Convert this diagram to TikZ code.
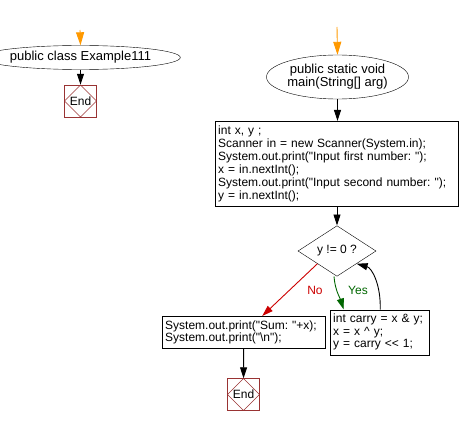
\documentclass[tikz,border=0pt]{standalone}
\usepackage{fontspec}
\setmainfont{Liberation Sans}
\usetikzlibrary{shapes.geometric,arrows.meta,calc}
\definecolor{endred}{HTML}{993333}
\definecolor{startor}{HTML}{FF9900}
\definecolor{nored}{HTML}{CC0000}
\definecolor{yesgreen}{HTML}{006600}
\begin{document}
\frenchspacing
\begin{tikzpicture}[x=1pt,y=-1pt,
  every node/.style={font=\fontsize{12}{12.6}\selectfont},
  bigtext/.style={font=\fontsize{13}{13}\selectfont},
  arr/.style={-{Triangle[length=11pt,width=7pt]}, line width=0.9pt},
  startarr/.style={-{Triangle[length=13pt,width=8pt]}, line width=0.9pt, startor},
  oval/.style={ellipse,draw,inner sep=0pt,bigtext},
  codebox/.style={draw,align=left,inner xsep=3pt,inner ysep=2pt,anchor=north west},
  endbox/.style={draw=endred,minimum size=32pt,inner sep=0pt,
    path picture={\draw[endred] (path picture bounding box.north) -- (path picture bounding box.east) -- (path picture bounding box.south) -- (path picture bounding box.west) -- cycle;}},
  cond/.style={diamond,draw,inner sep=0pt,minimum width=78pt,minimum height=36pt}
]
\useasboundingbox (0,0) rectangle (460,425);
% left part
\coordinate (s1) at (80,30);
\node[oval,minimum width=151pt,minimum height=24pt] (e1) at (80.5,57.5) {public class Example111};
\node[endbox] (end1) at (80.5,101) {End};
\draw[startarr] (s1) -- (e1.north);
\draw[arr] (e1.south) -- (end1.north);
% right part
\coordinate (s2) at (337,27);
\node[oval,minimum width=115pt,minimum height=44pt,align=center] (e2) at (337.5,77) {public static void\\main(String[] arg)};
\draw[startarr] (s2) -- (e2.north);
\node[codebox,font=\fontsize{12}{13}\selectfont,text width=237pt,minimum height=85pt] (box1) at (215,121) {int x, y ;\\Scanner in = new Scanner(System.in);\\System.out.print(\textquotedbl Input first number: \textquotedbl);\\x = in.nextInt();\\\mbox{System.out.print(\textquotedbl Input second number: \textquotedbl);}\\y = in.nextInt();};
\draw[arr] (e2.south) -- (e2.south |- box1.north);
\node[cond] (d1) at (337,251) {y != 0 ?};
\draw[arr] (d1.north |- box1.south) -- (d1.north);
\node[codebox,text width=157pt,minimum height=32pt] (box2) at (162,316) {\mbox{System.out.print(\textquotedbl Sum: \textquotedbl+x);}\\System.out.print(\textquotedbl\textbackslash n\textquotedbl);};
\node[codebox,text width=93pt,minimum height=45pt] (box3) at (330,309.5) {int carry = x \& y;\\x = x \textasciicircum{} y;\\y = carry <{}< 1;};
\node[endbox] (end2) at (243.5,394.5) {End};
\draw[arr,nored] (d1.south west) -- ([xshift=18.5pt]box2.north);
\node[text=nored] (nolab) at (315,290) {No};
\draw[arr,yesgreen] ([xshift=-3pt]d1.south) .. controls (335,290) and (340,298) .. ([xshift=-36pt]box3.north);
\node[text=yesgreen] (yeslab) at (358,290) {Yes};
\draw[arr] ([xshift=0.5pt]box3.north) .. controls (381,285) and (372,268) .. (d1.south east);
\draw[arr] (box2.south) -- (end2.north);
\end{tikzpicture}
\end{document}
